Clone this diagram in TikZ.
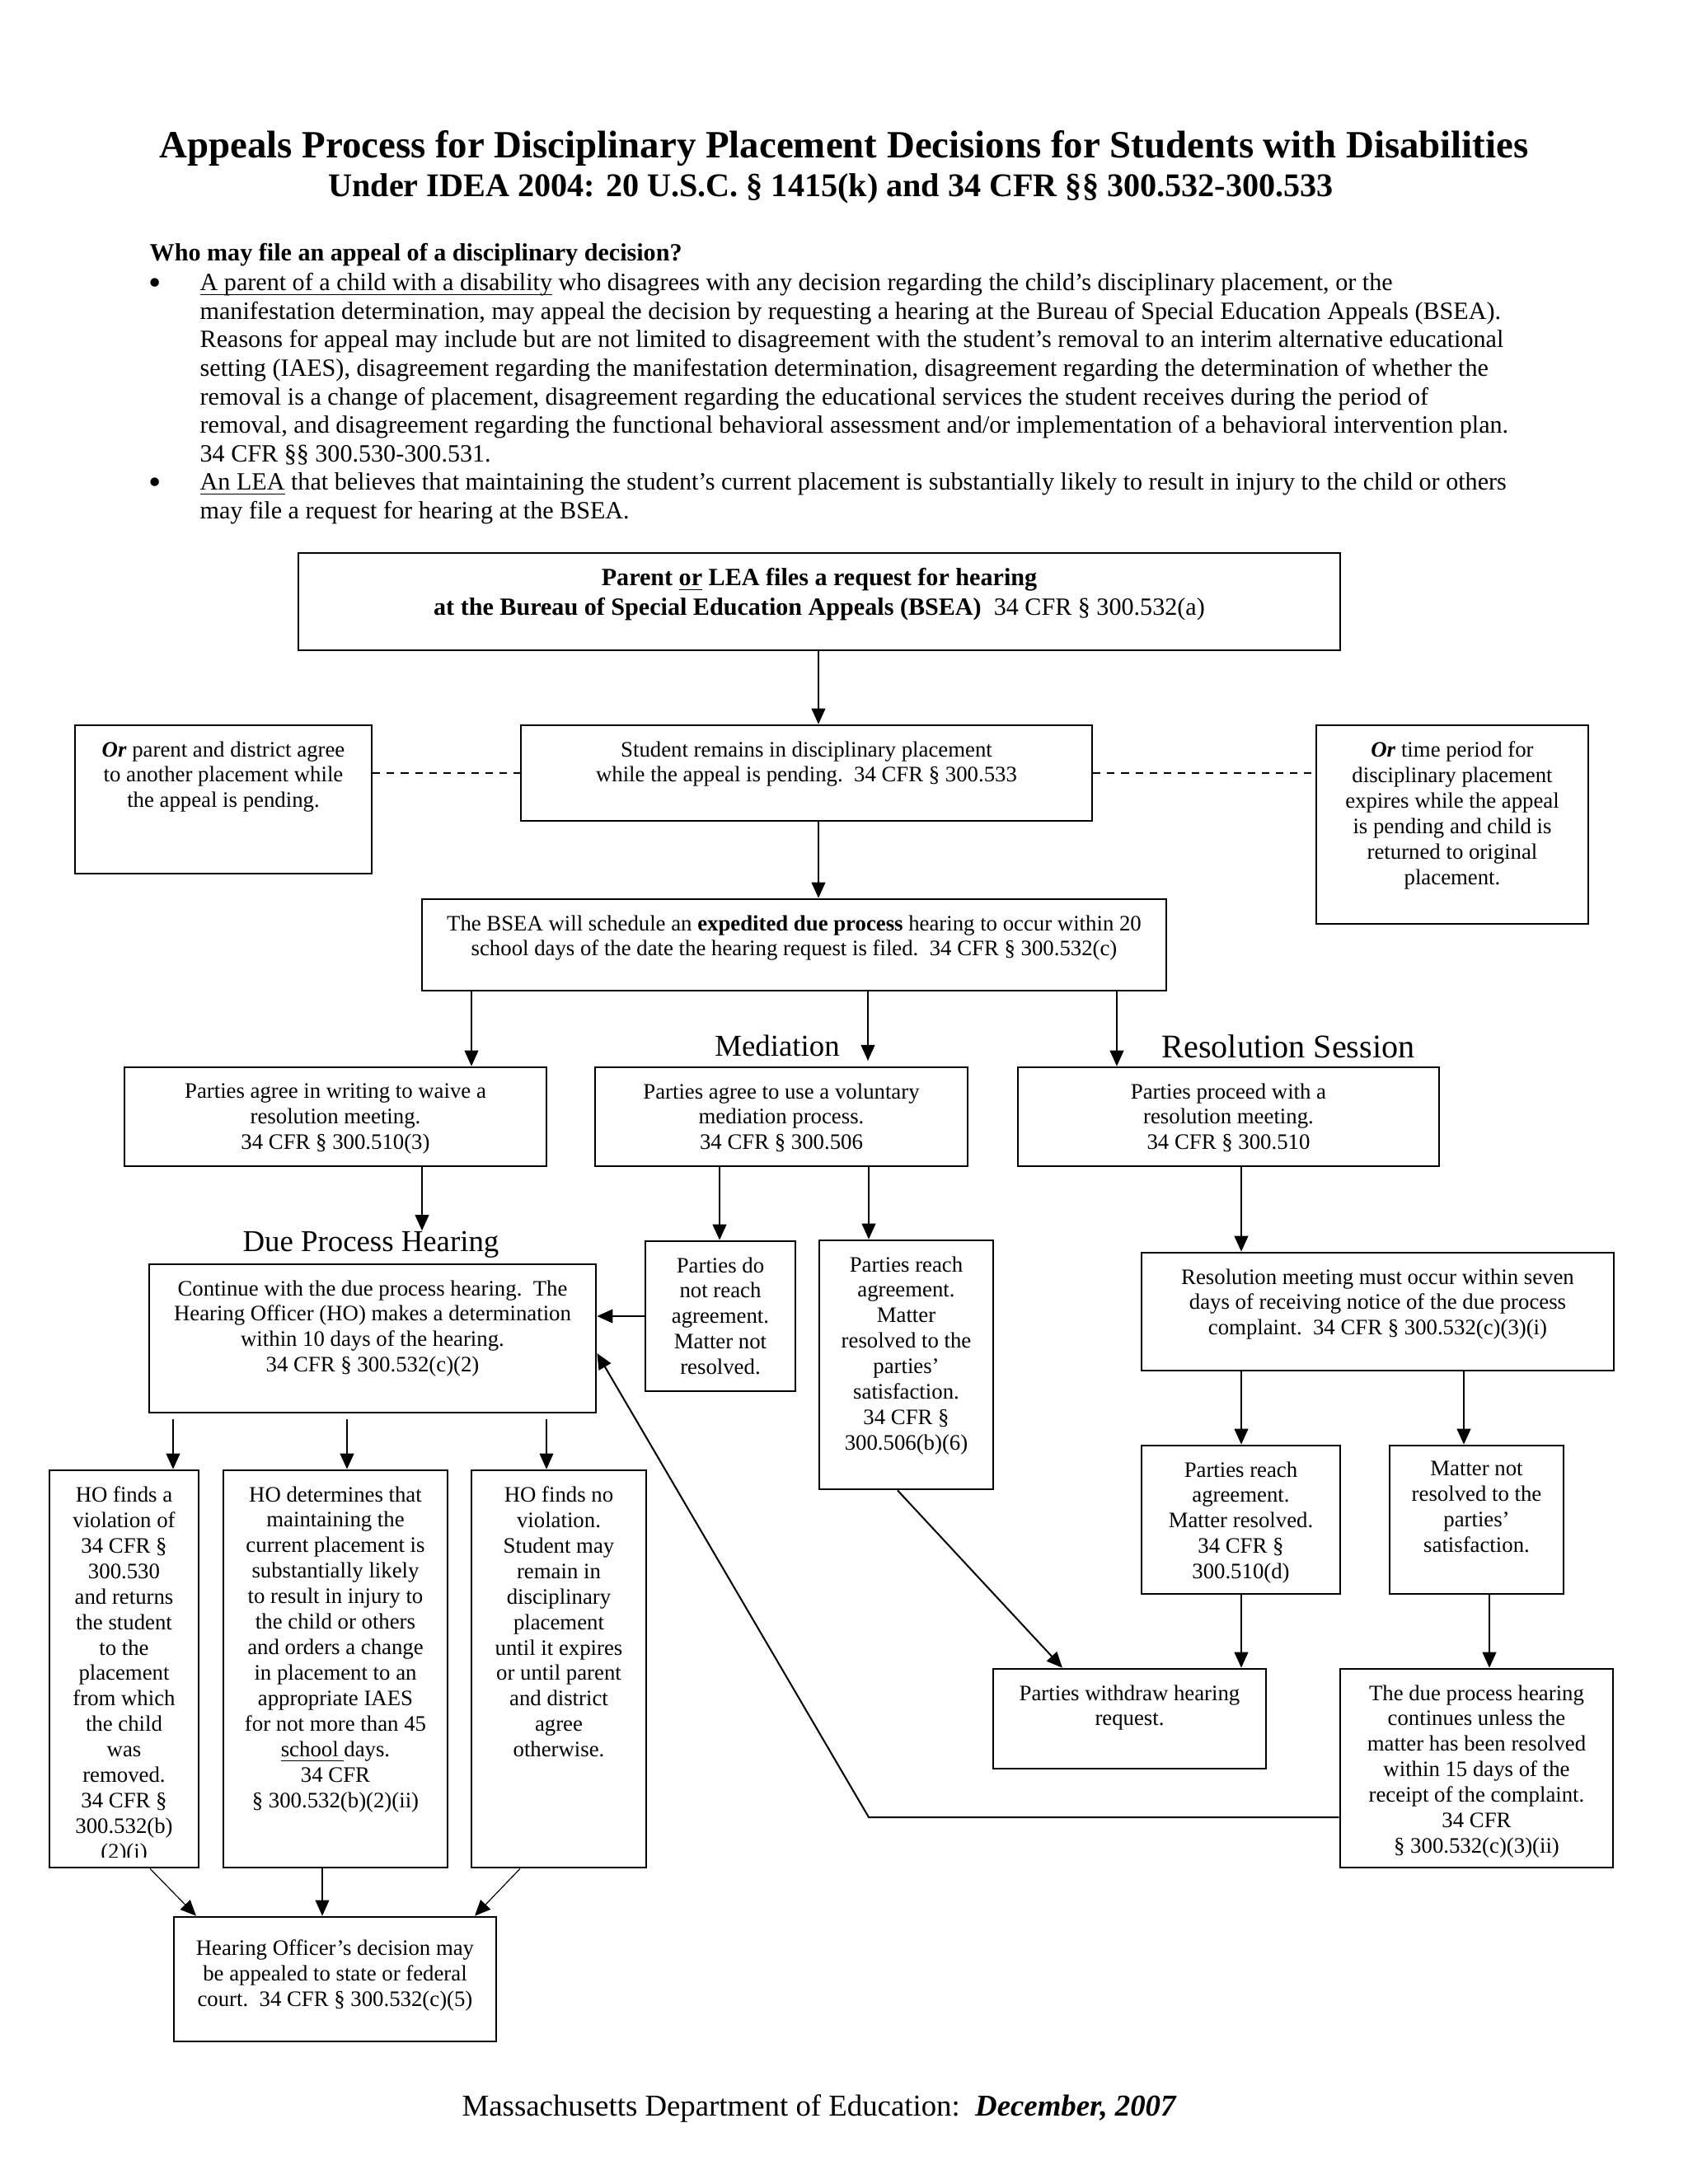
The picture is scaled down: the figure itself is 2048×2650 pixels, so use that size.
\documentclass[tikz,border=0pt]{standalone}
\usepackage{fontspec}
\setmainfont{Liberation Serif}
\usetikzlibrary{arrows.meta,positioning,fit}

\newcommand{\boxfont}{\fontsize{8}{9.25}\selectfont}
\newcommand{\parfont}{\fontsize{9}{10.35}\selectfont}
\newcommand{\ulbase}[1]{\underline{\smash{#1}}}

\begin{document}
\begin{tikzpicture}[x=0.29883pt,y=-0.29883pt,>={Triangle[length=5.7pt,width=5pt]}]
    \tikzstyle{stage}=[draw,line width=0.8pt,inner sep=0pt]
    \tikzstyle{stagetext}=[inner sep=0pt,align=center,font=\boxfont]
    \tikzstyle{flow}=[->,line width=0.6pt]
    \tikzstyle{thin flow}=[->,line width=0.35pt]
    \tikzstyle{heading}=[inner sep=0pt,font=\fontsize{11}{13}\selectfont]
    \tikzstyle{bulletpar}=[inner sep=0pt,anchor=north west,align=left,font=\parfont]
    \tikzstyle{bulletdot}=[inner sep=0pt,font=\fontsize{13}{13}\selectfont]
    \tikzstyle{link}=[line width=0.8pt,dash pattern=on 2.7pt off 2.4pt]

    \useasboundingbox (0,0) rectangle (2048,2650);

    % title and the two bullets
    \node[inner sep=0pt,font=\fontsize{14}{16}\selectfont\bfseries] (title) at (1024,180) {Appeals Process for Disciplinary Placement Decisions for Students with Disabilities};
    \node[inner sep=0pt,font=\fontsize{12}{14}\selectfont\bfseries] (subtitle) at (1008,229) {Under IDEA 2004: 20 U.S.C. § 1415(k) and 34 CFR §§ 300.532-300.533};

    \node[inner sep=0pt,anchor=west,font=\parfont\bfseries] (who) at (181,309) {Who may file an appeal of a disciplinary decision?};
    \node[bulletdot] (dotA) at (188,348) {\textbullet};
    \node[bulletpar] (parent) at (242,331) {\ulbase{A parent of a child with a disability} who disagrees with any decision regarding the child’s disciplinary placement, or the\\
        manifestation determination, may appeal the decision by requesting a hearing at the Bureau of Special Education Appeals (BSEA).\\
        Reasons for appeal may include but are not limited to disagreement with the student’s removal to an interim alternative educational\\
        setting (IAES), disagreement regarding the manifestation determination, disagreement regarding the determination of whether the\\
        removal is a change of placement, disagreement regarding the educational services the student receives during the period of\\
        removal, and disagreement regarding the functional behavioral assessment and/or implementation of a behavioral intervention plan.\\
        34 CFR §§ 300.530-300.531.};
    \node[bulletdot] (dotB) at (188,590) {\textbullet};
    \node[bulletpar] (lea) at (242,573) {\ulbase{An LEA} that believes that maintaining the student’s current placement is substantially likely to result in injury to the child or others\\
        may file a request for hearing at the BSEA.};

    % request and pending placement
    \node[stage,fit={(362,671) (1626,789)}] (request) {};
    \node[stagetext,font=\fontsize{9}{10.7}\selectfont,below=5.7pt of request.north] (requesttext) {\textbf{Parent \ulbase{or} LEA files a request for hearing}\\
        \textbf{at the Bureau of Special Education Appeals (BSEA)}\ \ 34 CFR § 300.532(a)};

    \node[stage,fit={(91,880) (451,1060)}] (agree) {};
    \node[stagetext,below=6pt of agree.north] (agreetext) {\textbf{\textit{Or}} parent and district agree\\ to another placement while\\ the appeal is pending.};

    \node[stage,fit={(632,880) (1325,996)}] (remain) {};
    \node[stagetext,below=6pt of remain.north] (remaintext) {Student remains in disciplinary placement\\ while the appeal is pending.\ \ 34 CFR § 300.533};

    \node[stage,fit={(1597,880) (1927,1121)}] (expire) {};
    \node[stagetext,below=6pt of expire.north] (expiretext) {\textbf{\textit{Or}} time period for\\ disciplinary placement\\ expires while the appeal\\ is pending and child is\\ returned to original\\ placement.};

    \node[stage,fit={(512,1091) (1415,1202)}] (schedule) {};
    \node[stagetext,below=6pt of schedule.north] (scheduletext) {The BSEA will schedule an \textbf{expedited due process} hearing to occur within 20\\ school days of the date the hearing request is filed.\ \ 34 CFR § 300.532(c)};

    % three routes
    \node[heading] (mediationlabel) at (943,1269) {Mediation};
    \node[heading,font=\fontsize{12}{14}\selectfont] (resolutionlabel) at (1563,1270) {Resolution Session};

    \node[stage,fit={(151,1295) (663,1415)}] (waive) {};
    \node[stagetext,below=6pt of waive.north] (waivetext) {Parties agree in writing to waive a\\ resolution meeting.\\ 34 CFR § 300.510(3)};

    \node[stage,fit={(722,1295) (1174,1415)}] (mediate) {};
    \node[stagetext,below=6pt of mediate.north] (mediatetext) {Parties agree to use a voluntary\\ mediation process.\\ 34 CFR § 300.506};

    \node[stage,fit={(1235,1295) (1746,1415)}] (resolve) {};
    \node[stagetext,below=6pt of resolve.north] (resolvetext) {Parties proceed with a\\ resolution meeting.\\ 34 CFR § 300.510};

    \node[heading] (duelabel) at (450,1510) {Due Process Hearing};

    \node[stage,fit={(181,1534) (723,1714)}] (hearing) {};
    \node[stagetext,below=6pt of hearing.north] (hearingtext) {Continue with the due process hearing.\ \ The\\ Hearing Officer (HO) makes a determination\\ within 10 days of the hearing.\\ 34 CFR § 300.532(c)(2)};

    \node[stage,fit={(783,1506) (965,1688)}] (noagree) {};
    \node[stagetext,below=6pt of noagree.north] (noagreetext) {Parties do\\ not reach\\ agreement.\\ Matter not\\ resolved.};

    \node[stage,fit={(994,1505) (1205,1807)}] (medagree) {};
    \node[stagetext,below=6pt of medagree.north] (medagreetext) {Parties reach\\ agreement.\\ Matter\\ resolved to the\\ parties’\\ satisfaction.\\ 34 CFR §\\ 300.506(b)(6)};

    \node[stage,fit={(1385,1520) (1958,1663)}] (meet) {};
    \node[stagetext,below=6pt of meet.north] (meettext) {Resolution meeting must occur within seven\\ days of receiving notice of the due process\\ complaint.\ \ 34 CFR § 300.532(c)(3)(i)};

    \node[stage,fit={(1385,1754) (1626,1934)}] (resagree) {};
    \node[stagetext,below=6pt of resagree.north] (resagreetext) {Parties reach\\ agreement.\\ Matter resolved.\\ 34 CFR §\\ 300.510(d)};

    \node[stage,fit={(1686,1754) (1897,1934)}] (resfail) {};
    \node[stagetext,below=6pt of resfail.north] (resfailtext) {Matter not\\ resolved to the\\ parties’\\ satisfaction.};

    \node[stage,fit={(1205,2025) (1536,2146)}] (withdraw) {};
    \node[stagetext,below=6pt of withdraw.north] (withdrawtext) {Parties withdraw hearing\\ request.};

    \node[stage,fit={(1626,2025) (1957,2266)}] (continues) {};
    \node[stagetext,below=6pt of continues.north] (continuestext) {The due process hearing\\ continues unless the\\ matter has been resolved\\ within 15 days of the\\ receipt of the complaint.\\ 34 CFR\\ § 300.532(c)(3)(ii)};

    % hearing officer outcomes
    \node[stage,fit={(60,1784) (241,2266)}] (violation) {};
    \begin{scope}
        \clip (violation.north west) rectangle ([yshift=4.2pt]violation.south east);
        \node[stagetext,below=6pt of violation.north] (violationtext) {HO finds a\\ violation of\\ 34 CFR §\\ 300.530\\ and returns\\ the student\\ to the\\ placement\\ from which\\ the child\\ was\\ removed.\\ 34 CFR §\\ 300.532(b)\\ (2)(i)};
    \end{scope}

    \node[stage,fit={(271,1784) (543,2266)}] (change) {};
    \node[stagetext,below=6pt of change.north] (changetext) {HO determines that\\ maintaining the\\ current placement is\\ substantially likely\\ to result in injury to\\ the child or others\\ and orders a change\\ in placement to an\\ appropriate IAES\\ for not more than 45\\ \ulbase{school\ }days.\\ 34 CFR\\ § 300.532(b)(2)(ii)};

    \node[stage,fit={(572,1784) (784,2266)}] (noviolation) {};
    \node[stagetext,below=6pt of noviolation.north] (noviolationtext) {HO finds no\\ violation.\\ Student may\\ remain in\\ disciplinary\\ placement\\ until it expires\\ or until parent\\ and district\\ agree\\ otherwise.};

    \node[stage,fit={(211,2326) (602,2477)}] (court) {};
    \node[stagetext,below=8.4pt of court.north] (courttext) {Hearing Officer’s decision may\\ be appealed to state or federal\\ court.\ \ 34 CFR § 300.532(c)(5)};

    \node[inner sep=0pt,anchor=west,font=\fontsize{11}{13}\selectfont] (footer) at (560,2558) {Massachusetts Department of Education:\ \ \textbf{\textit{December, 2007}}};

    % connectors
    \draw[flow] (993,0 |- request.south) -- (993,0 |- remain.north);
    \draw[flow] (993,0 |- remain.south) -- (993,0 |- schedule.north);
    \draw[link] (agree.east |- remain.west) -- (remain.west);
    \draw[link] (remain.east) -- (expire.west |- remain.east);
    \draw[flow] (572,0 |- schedule.south) -- (572,0 |- waive.north);
    \draw[flow,shorten >=2pt] (1053,0 |- schedule.south) -- (1053,0 |- mediate.north);
    \draw[flow] (1355,0 |- schedule.south) -- (1355,0 |- resolve.north);
    \draw[flow] (512,0 |- waive.south) -- (512,0 |- duelabel.north);
    \draw[flow] (873,0 |- mediate.south) -- (873,0 |- noagree.north);
    \draw[flow] (1054,0 |- mediate.south) -- (1054,0 |- medagree.north);
    \draw[flow] (noagree.west) -- (noagree.west -| hearing.east);
    \draw[flow] (1506,0 |- resolve.south) -- (1506,0 |- meet.north);
    \draw[flow] (1506,0 |- meet.south) -- (1506,0 |- resagree.north);
    \draw[flow] (1776,0 |- meet.south) -- (1776,0 |- resfail.north);
    \draw[flow] (1506,0 |- resagree.south) -- (1506,0 |- withdraw.north);
    \draw[flow] (1807,0 |- resfail.south) -- (1807,0 |- continues.north);
    \draw[flow] (1089,0 |- medagree.south) -- (1289,0 |- withdraw.north);
    \draw[flow] (continues.west |- 0,2205) -- (1054,2205) -- (hearing.east |- 0,1642);
    \draw[flow,shorten <=2pt] (210,0 |- hearing.south) -- (210,0 |- violation.north);
    \draw[flow,shorten <=2pt] (421,0 |- hearing.south) -- (421,0 |- change.north);
    \draw[thin flow,shorten <=2pt] (663,0 |- hearing.south) -- (663,0 |- noviolation.north);
    \draw[thin flow] (182,0 |- violation.south) -- (238,0 |- court.north);
    \draw[thin flow] (391,0 |- change.south) -- (391,0 |- court.north);
    \draw[thin flow] (631,0 |- noviolation.south) -- (576,0 |- court.north);
\end{tikzpicture}
\end{document}
